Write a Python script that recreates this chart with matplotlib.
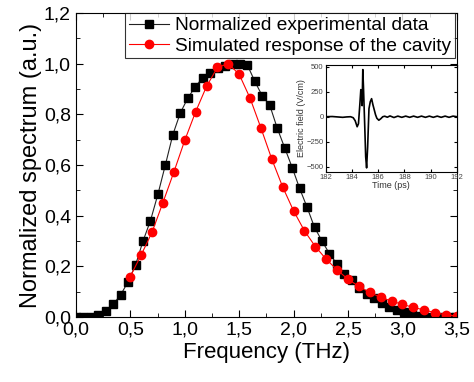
import matplotlib
matplotlib.use("Agg")
import matplotlib.pyplot as plt
from matplotlib.ticker import MultipleLocator, FuncFormatter

plt.rcParams['font.family'] = ['Liberation Sans', 'DejaVu Sans']

# experimental spectrum (black squares)
exp_freq = [0.000, 0.069, 0.137, 0.206, 0.274, 0.343, 0.411, 0.480, 0.548, 0.617,
            0.685, 0.754, 0.822, 0.891, 0.959, 1.028, 1.096, 1.165, 1.233, 1.302,
            1.370, 1.439, 1.507, 1.576, 1.644, 1.713, 1.781, 1.850, 1.918, 1.987,
            2.055, 2.124, 2.192, 2.261, 2.329, 2.398, 2.466, 2.535, 2.603, 2.672,
            2.740, 2.809, 2.877, 2.946, 3.014, 3.083, 3.151, 3.220, 3.288, 3.357,
            3.425, 3.494]
exp_spec = [0.000, 0.000, 0.002, 0.008, 0.024, 0.051, 0.087, 0.140, 0.205, 0.300,
            0.380, 0.485, 0.600, 0.720, 0.805, 0.864, 0.908, 0.945, 0.965, 0.983,
            0.990, 1.000, 1.000, 0.994, 0.930, 0.872, 0.836, 0.745, 0.668, 0.590,
            0.508, 0.433, 0.354, 0.300, 0.250, 0.210, 0.170, 0.146, 0.116, 0.091,
            0.074, 0.055, 0.041, 0.028, 0.018, 0.011, 0.005, 0.002, 0.000, 0.000,
            0.000, 0.000]

# simulated cavity response (red circles)
sim_freq = [0.5, 0.6, 0.7, 0.8, 0.9, 1.0, 1.1, 1.2, 1.3, 1.4, 1.5, 1.6, 1.7, 1.8,
            1.9, 2.0, 2.1, 2.2, 2.3, 2.4, 2.5, 2.6, 2.7, 2.8, 2.9, 3.0, 3.1, 3.2,
            3.3, 3.4, 3.5]
sim_spec = [0.160, 0.245, 0.335, 0.452, 0.572, 0.697, 0.810, 0.910, 0.985, 1.000,
            0.958, 0.864, 0.746, 0.623, 0.513, 0.419, 0.340, 0.278, 0.228, 0.186,
            0.149, 0.121, 0.097, 0.078, 0.063, 0.050, 0.038, 0.028, 0.017, 0.009,
            0.004]

# inset: electric field vs time
time_ps = [182.0, 182.5, 183.0, 183.3, 183.6, 183.9, 184.1, 184.25, 184.4, 184.5,
           184.62, 184.68, 184.74, 184.78, 184.83, 184.88, 184.98, 185.05, 185.12,
           185.2, 185.3, 185.4, 185.5, 185.6, 185.7, 185.8, 185.9, 186.05, 186.2,
           186.35, 186.5, 186.7, 186.9, 187.2, 187.5, 187.8, 188.1, 188.4, 188.7,
           189.0, 189.3, 189.6, 189.9, 190.2, 190.5, 190.8, 191.1, 191.4, 191.7,
           192.0]
field = [0, 2, -3, -6, -2, 0, -10, -40, -100, -70,
         150, 270, 260, 110, 470, 300, -100, -400, -510,
         -300, 80, 150, 180, 120, 70, 20, -15, -35, -20,
         0, 5, -5, 8, -8, 6, -6, 6, -6, 6,
         -6, 6, -6, 6, -6, 6, -6, 6, -6, 6,
         0]

comma = FuncFormatter(lambda v, p: f"{v:.1f}".replace('.', ','))

fig = plt.figure(figsize=(4.74, 3.82), dpi=100)
ax = fig.add_axes([0.160, 0.170, 0.804, 0.796])

ax.plot(exp_freq, exp_spec, color='#222222', lw=0.8, marker='s', ms=5.2,
        mfc='black', mec='black', label='Normalized experimental data')
ax.plot(sim_freq, sim_spec, color='red', lw=0.8, marker='o', ms=6,
        mfc='red', mec='red', label='Simulated response of the cavity')

ax.set_xlim(0, 3.5)
ax.set_ylim(0, 1.2)
ax.xaxis.set_major_locator(MultipleLocator(0.5))
ax.xaxis.set_minor_locator(MultipleLocator(0.25))
ax.yaxis.set_major_locator(MultipleLocator(0.2))
ax.yaxis.set_minor_locator(MultipleLocator(0.1))
ax.xaxis.set_major_formatter(comma)
ax.yaxis.set_major_formatter(comma)
ax.tick_params(which='both', direction='in', top=True, right=True, labelsize=14)
ax.tick_params(which='major', length=5)
ax.tick_params(which='minor', length=3)
ax.set_xlabel('Frequency (THz)', fontsize=16, labelpad=2)
ax.set_ylabel('Normalized spectrum (a.u.)', fontsize=17, labelpad=1)

leg = ax.legend(loc='upper right', bbox_to_anchor=(0.995, 1.0), fontsize=13.8,
                frameon=True, fancybox=False, borderpad=0.2, labelspacing=0.15,
                handlelength=2.1, handletextpad=0.3, borderaxespad=0.0)
leg.get_frame().set_edgecolor('black')
leg.get_frame().set_linewidth(0.8)

# inset
ins = fig.add_axes([0.687, 0.550, 0.277, 0.281])
ins.plot(time_ps, field, color='black', lw=1.2)
ins.set_xlim(182, 192)
ins.set_ylim(-550, 520)
ins.xaxis.set_major_locator(MultipleLocator(2))
ins.yaxis.set_major_locator(MultipleLocator(250))
ins.tick_params(direction='in', top=True, right=True, labelsize=5.5,
                length=2.5, pad=1.5, colors='#444444')
ins.tick_params(axis='both', color='black')
ins.set_xlabel('Time (ps)', fontsize=6.5, labelpad=0, color='#333333')
ins.set_ylabel('Electric field (V/cm)', fontsize=6.5, labelpad=0, color='#333333')

fig.savefig('out.png', dpi=100)
